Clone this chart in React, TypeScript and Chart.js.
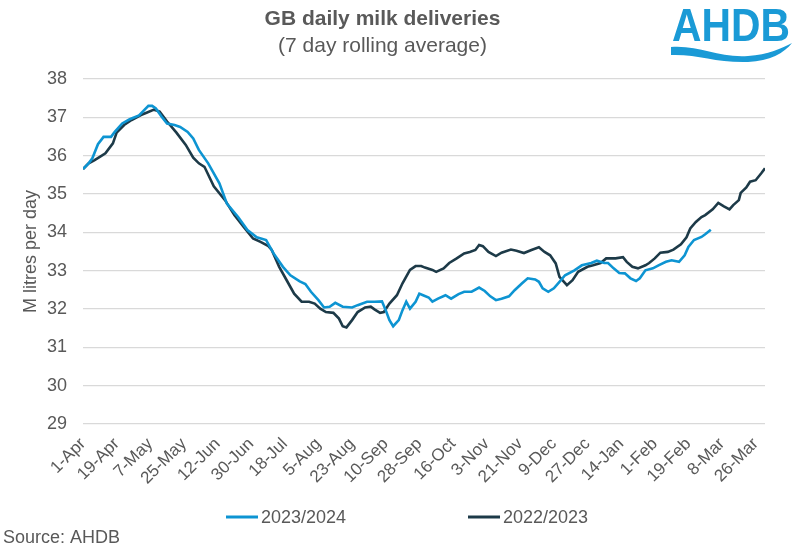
import React, { useEffect, useRef } from 'react';
import { Chart, registerables } from 'chart.js';

Chart.register(...registerables);

const FONT = "'Liberation Sans', Arial, Helvetica, sans-serif";
const TEXT = '#595959';
const BLUE = '#0d94d2';
const DARK = '#1d3a48';

const chartTitle = 'GB daily milk deliveries';
const chartSubtitle = '(7 day rolling average)';
const yAxisTitle = 'M litres per day';
const sourceText = 'Source: AHDB';
const logoText = 'AHDB';

const seriesNames = ['2023/2024', '2022/2023'];

const xTickLabels = [
  '1-Apr', '19-Apr', '7-May', '25-May', '12-Jun', '30-Jun', '18-Jul', '5-Aug', '23-Aug', '10-Sep',
  '28-Sep', '16-Oct', '3-Nov', '21-Nov', '9-Dec', '27-Dec', '14-Jan', '1-Feb', '19-Feb', '8-Mar', '26-Mar',
];
const TICK_STEP_DAYS = 18;
const DAYS_IN_YEAR = 365;

// 2023/2024 (day index from 1-Apr, M litres/day)
const days2324 = [
  0, 3, 5, 8, 11, 15, 17, 21, 25, 30, 33, 35, 37, 39, 42, 45, 49, 52, 56, 59,
  62, 67, 73, 77, 83, 88, 93, 98, 102, 107, 111, 116, 119, 122, 126, 129, 132, 135, 139, 144,
  147, 152, 156, 160, 162, 164, 166, 169, 171, 173, 175, 178, 180, 182, 185, 187, 190, 194, 197, 201,
  204, 208, 212, 215, 218, 221, 224, 228, 231, 235, 238, 242, 244, 246, 249, 252, 255, 258, 263, 267,
  272, 275, 279, 281, 284, 287, 290, 293, 296, 298, 301, 305, 308, 312, 315, 319, 322, 324, 327, 331,
  333, 336,
];
const values2324 = [
  35.65, 35.8, 35.93, 36.3, 36.49, 36.49, 36.62, 36.84, 36.95, 37.05, 37.2, 37.3, 37.3, 37.23, 37.02, 36.84, 36.8, 36.75, 36.62, 36.45,
  36.15, 35.8, 35.28, 34.75, 34.4, 34.06, 33.87, 33.8, 33.45, 33.1, 32.88, 32.72, 32.65, 32.45, 32.23, 32.04, 32.06, 32.16, 32.06, 32.04,
  32.1, 32.19, 32.19, 32.2, 31.97, 31.71, 31.55, 31.71, 31.97, 32.19, 32.01, 32.19, 32.4, 32.36, 32.3, 32.19, 32.27, 32.36, 32.27, 32.39,
  32.45, 32.45, 32.56, 32.47, 32.33, 32.23, 32.27, 32.33, 32.49, 32.67, 32.8, 32.77, 32.71, 32.54, 32.45, 32.54, 32.71, 32.88, 33.01, 33.14,
  33.2, 33.26, 33.2, 33.2, 33.06, 32.94, 32.93, 32.8, 32.73, 32.8, 33.01, 33.06, 33.14, 33.23, 33.27, 33.23, 33.4, 33.62, 33.8, 33.88,
  33.95, 34.07,
];

// 2022/2023
const days2223 = [
  0, 3, 6, 9, 12, 16, 18, 22, 26, 31, 34, 38, 41, 45, 50, 55, 59, 62, 65, 70,
  76, 81, 86, 91, 95, 99, 101, 105, 109, 113, 117, 121, 124, 127, 130, 134, 137, 139, 141, 144,
  147, 151, 154, 156, 159, 161, 164, 168, 171, 175, 178, 181, 183, 187, 189, 193, 196, 200, 204, 207,
  210, 212, 214, 217, 221, 224, 229, 232, 236, 240, 244, 247, 250, 253, 255, 259, 262, 265, 270, 273,
  277, 280, 285, 289, 291, 294, 297, 301, 303, 306, 309, 313, 316, 320, 323, 325, 328, 331, 333, 337,
  340, 343, 346, 348, 351, 352, 355, 357, 360, 363, 365,
];
const values2223 = [
  35.65, 35.8, 35.88, 35.97, 36.06, 36.32, 36.6, 36.8, 36.93, 37.06, 37.12, 37.2, 37.15, 36.89, 36.6, 36.28, 35.95, 35.8, 35.71, 35.2,
  34.84, 34.45, 34.14, 33.84, 33.75, 33.65, 33.54, 33.1, 32.75, 32.4, 32.19, 32.19, 32.14, 32.01, 31.92, 31.9, 31.75, 31.55, 31.52, 31.71,
  31.92, 32.04, 32.06, 31.99, 31.9, 31.92, 32.14, 32.36, 32.67, 33.02, 33.12, 33.12, 33.08, 33.02, 32.97, 33.06, 33.2, 33.32, 33.45, 33.49,
  33.54, 33.67, 33.64, 33.49, 33.38, 33.47, 33.55, 33.52, 33.46, 33.54, 33.61, 33.49, 33.4, 33.19, 32.84, 32.62, 32.75, 32.97, 33.1, 33.14,
  33.2, 33.32, 33.32, 33.35, 33.23, 33.1, 33.06, 33.14, 33.2, 33.32, 33.47, 33.49, 33.55, 33.69, 33.87, 34.1, 34.27, 34.4, 34.45, 34.6,
  34.77, 34.68, 34.6, 34.71, 34.84, 35.03, 35.17, 35.32, 35.36, 35.54, 35.67,
];

const yMin = 29;
const yMax = 38;

const toPoints = (xs: number[], ys: number[]) => xs.map((x, i) => ({ x, y: ys[i] }));

const extrasPlugin = {
  id: 'extras',
  afterDraw(chart: any) {
    const ctx = chart.ctx as CanvasRenderingContext2D;
    ctx.save();

    // Legend
    const legendY = 517;
    const legendItems = [
      { x: 226, ds: 0 },
      { x: 468, ds: 1 },
    ];
    ctx.font = `18px ${FONT}`;
    ctx.textBaseline = 'middle';
    ctx.textAlign = 'left';
    legendItems.forEach(({ x, ds }) => {
      const d = chart.data.datasets[ds];
      ctx.strokeStyle = d.borderColor;
      ctx.lineWidth = 3;
      ctx.beginPath();
      ctx.moveTo(x, legendY);
      ctx.lineTo(x + 32, legendY);
      ctx.stroke();
      ctx.fillStyle = TEXT;
      ctx.fillText(d.label, x + 35, legendY + 1);
    });

    // Source
    ctx.fillStyle = TEXT;
    ctx.font = `18px ${FONT}`;
    ctx.fillText(sourceText, 3, 538);

    // Logo
    ctx.fillStyle = '#1a9ad6';
    ctx.font = `bold 46px ${FONT}`;
    ctx.textBaseline = 'alphabetic';
    ctx.fillText(logoText, 672, 41, 118);
    ctx.beginPath();
    ctx.moveTo(671, 47);
    ctx.bezierCurveTo(700, 45, 718, 58, 748, 56);
    ctx.bezierCurveTo(768, 55, 782, 48, 792, 43);
    ctx.bezierCurveTo(784, 53, 770, 61, 748, 62);
    ctx.bezierCurveTo(716, 63, 698, 54, 671, 55);
    ctx.closePath();
    ctx.fill();

    ctx.restore();
  },
};

export default function App() {
  const canvasRef = useRef<HTMLCanvasElement | null>(null);

  useEffect(() => {
    const canvas = canvasRef.current;
    if (!canvas) return;
    const chart = new Chart(canvas, {
      type: 'line',
      data: {
        datasets: [
          {
            label: seriesNames[0],
            data: toPoints(days2324, values2324),
            borderColor: BLUE,
            backgroundColor: BLUE,
            borderWidth: 2.6,
            pointRadius: 0,
            tension: 0,
          },
          {
            label: seriesNames[1],
            data: toPoints(days2223, values2223),
            borderColor: DARK,
            backgroundColor: DARK,
            borderWidth: 2.6,
            pointRadius: 0,
            tension: 0,
          },
        ],
      },
      options: {
        responsive: false,
        animation: false,
        layout: { padding: { left: 0, right: 31, top: 0, bottom: 53 } },
        plugins: {
          legend: { display: false },
          tooltip: { enabled: false },
          title: {
            display: true,
            text: chartTitle,
            color: TEXT,
            font: { family: FONT, size: 21, weight: 'bold' },
            padding: { top: 7, bottom: 0 },
          },
          subtitle: {
            display: true,
            text: chartSubtitle,
            color: TEXT,
            font: { family: FONT, size: 21, weight: 'normal' },
            padding: { top: 1, bottom: 20.6 },
          },
        },
        scales: {
          x: {
            type: 'linear',
            min: 0,
            max: DAYS_IN_YEAR,
            grid: { display: false },
            border: { display: false },
            afterBuildTicks: (scale: any) => {
              scale.ticks = xTickLabels.map((_, i) => ({ value: i * TICK_STEP_DAYS }));
            },
            afterFit: (scale: any) => {
              scale.height = 75;
            },
            ticks: {
              autoSkip: false,
              minRotation: 45,
              maxRotation: 45,
              padding: 2,
              color: TEXT,
              font: { family: FONT, size: 17 },
              callback: (value: any) => xTickLabels[Math.round(Number(value) / TICK_STEP_DAYS)] ?? '',
            },
          },
          y: {
            type: 'linear',
            min: yMin,
            max: yMax,
            grid: { color: '#d9d9d9', lineWidth: 1.2, drawTicks: false },
            border: { display: false },
            afterFit: (scale: any) => {
              scale.width = 83;
            },
            ticks: {
              stepSize: 1,
              padding: 16,
              color: TEXT,
              font: { family: FONT, size: 18 },
            },
            title: {
              display: true,
              text: yAxisTitle,
              color: TEXT,
              font: { family: FONT, size: 18 },
              padding: { top: 20, bottom: 0 },
            },
          },
        },
      },
      plugins: [extrasPlugin],
    });
    return () => chart.destroy();
  }, []);

  return (
    <div style={{ position: 'absolute', left: 0, top: 0, width: 796, height: 552, background: '#ffffff' }}>
      <canvas ref={canvasRef} width={796} height={552} style={{ display: 'block', width: 796, height: 552 }} />
    </div>
  );
}
